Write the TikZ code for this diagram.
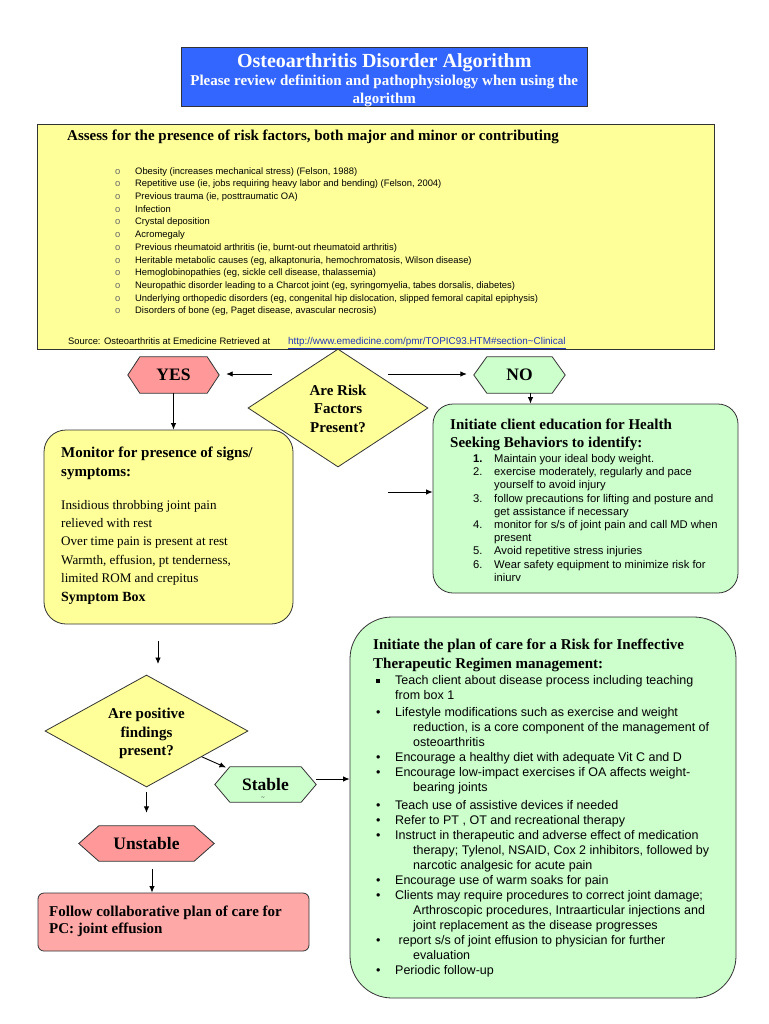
\documentclass[tikz,border=0pt]{standalone}
\usepackage{fontspec}
\setmainfont{Liberation Serif}
\newfontfamily\arialf{Liberation Sans}
\usetikzlibrary{shapes.geometric,arrows.meta,calc}
\definecolor{tblue}{HTML}{3366FF}
\definecolor{lyellow}{HTML}{FFFF99}
\definecolor{lgreen}{HTML}{CCFFCC}
\definecolor{lpink}{HTML}{FF9999}
\definecolor{rpink}{HTML}{FFA8A8}
\definecolor{edgec}{HTML}{333333}
\definecolor{urlc}{HTML}{2233BB}
\definecolor{bulc}{HTML}{666666}
\pgfdeclarelayer{bg}
\pgfsetlayers{bg,main}
\newcommand\hexdraw[3]{%
  \draw[draw=edgec,line width=0.8pt,fill=#2] (#1.west) -- ([xshift=#3]#1.north west) -- ([xshift=-#3]#1.north east) -- (#1.east) -- ([xshift=-#3]#1.south east) -- ([xshift=#3]#1.south west) -- cycle;}
\begin{document}
\begin{tikzpicture}[x=1pt,y=-1pt,
  box/.style={draw=edgec,line width=0.8pt,inner sep=0pt},
  hexbox/.style={inner sep=0pt,font=\fontsize{17.5}{20}\selectfont\bfseries},
  dia/.style={diamond,draw=edgec,fill=lyellow,line width=0.8pt,inner sep=0pt},
  diatext/.style={inner sep=0pt,align=center,font=\fontsize{15}{18.5}\selectfont\bfseries},
  txt/.style={inner sep=0pt,anchor=base west},
  arr/.style={-{Latex[length=6.5pt,width=5.5pt]},line width=0.9pt,black},
]
\useasboundingbox (0,0) rectangle (768,1024);

% title
\node[box,fill=tblue,minimum width=405.5pt,minimum height=59.5pt] (title) at (384.25,76.75) {};
\node[inner sep=0pt,anchor=base,text=white,font=\fontsize{20}{24}\selectfont\bfseries] (t1) at (384.25,68) {Osteoarthritis Disorder Algorithm};
\node[inner sep=0pt,anchor=base,text=white,font=\fontsize{15}{18}\selectfont\bfseries] (t2) at (384.25,85.5) {\begin{tabular}[t]{@{}c@{}}Please review definition and pathophysiology when using the\\ algorithm\end{tabular}};

% risk factor box
\node[box,fill=lyellow,minimum width=677pt,minimum height=225pt] (risk) at (375.5,236.5) {};
\node[txt,font=\fontsize{15}{17}\selectfont\bfseries] (rh) at (67,141) {Assess for the presence of risk factors, both major and minor or contributing};
\node[txt,font=\arialf\fontsize{9.4}{12.7}\selectfont] (rl) at (115,174.2) {\begin{tabular}[t]{@{}p{20pt}@{}l@{}}
\textcolor{bulc}{o} & Obesity (increases mechanical stress) (Felson, 1988)\\
\textcolor{bulc}{o} & Repetitive use (ie, jobs requiring heavy labor and bending) (Felson, 2004)\\
\textcolor{bulc}{o} & Previous trauma (ie, posttraumatic OA)\\
\textcolor{bulc}{o} & Infection\\
\textcolor{bulc}{o} & Crystal deposition\\
\textcolor{bulc}{o} & Acromegaly\\
\textcolor{bulc}{o} & Previous rheumatoid arthritis (ie, burnt-out rheumatoid arthritis)\\
\textcolor{bulc}{o} & Heritable metabolic causes (eg, alkaptonuria, hemochromatosis, Wilson disease)\\
\textcolor{bulc}{o} & Hemoglobinopathies (eg, sickle cell disease, thalassemia)\\
\textcolor{bulc}{o} & Neuropathic disorder leading to a Charcot joint (eg, syringomyelia, tabes dorsalis, diabetes)\\
\textcolor{bulc}{o} & Underlying orthopedic disorders (eg, congenital hip dislocation, slipped femoral capital epiphysis)\\
\textcolor{bulc}{o} & Disorders of bone (eg, Paget disease, avascular necrosis)
\end{tabular}};
\node[txt,font=\arialf\fontsize{9.4}{12.7}\selectfont] (src) at (68,344.5) {Source: Osteoarthritis at Emedicine Retrieved at};
\node[txt,font=\arialf\fontsize{9.9}{12.7}\selectfont,text=urlc] (url) at (288,344.5) {\underline{http://www.emedicine.com/pmr/TOPIC93.HTM\#section\textasciitilde Clinical}};

% decision 1
\node[dia,minimum width=180pt,minimum height=118pt] (d1) at (338,408) {};
\node[diatext] (d1t) at (338,408.5) {Are Risk\\Factors\\Present?};

% YES / NO
\node[hexbox,minimum width=91pt,minimum height=36pt] (yes) at (173.5,375) {YES};
\node[hexbox,minimum width=91pt,minimum height=36pt] (no) at (519.5,375) {NO};

% symptom box
\node[box,fill=lyellow,rounded corners=22pt,minimum width=249pt,minimum height=194pt] (symp) at (168.5,527) {};
\node[txt,font=\fontsize{15}{19}\selectfont\bfseries] (sh) at (61,457.5) {\begin{tabular}[t]{@{}l@{}}Monitor for presence of signs/\\ symptoms:\end{tabular}};
\node[txt,font=\fontsize{13.1}{18.4}\selectfont] (sb) at (61,509) {\begin{tabular}[t]{@{}l@{}}Insidious throbbing joint pain\\ relieved with rest\\ Over time pain is present at rest\\ Warmth, effusion, pt tenderness,\\ limited ROM and crepitus\\ \fontsize{14}{18.4}\selectfont\textbf{Symptom Box}\end{tabular}};

% health education box
\node[box,fill=lgreen,rounded corners=20pt,minimum width=305pt,minimum height=189pt] (edu) at (585.5,498.5) {};
\node[txt,font=\fontsize{15}{18}\selectfont\bfseries] (eh) at (450,429.5) {\begin{tabular}[t]{@{}l@{}}Initiate client education for Health\\ Seeking Behaviors to identify:\end{tabular}};
\node[txt,font=\arialf\fontsize{11.2}{13.2}\selectfont] (el) at (473,462.5) {\begin{tabular}[t]{@{}p{21pt}@{}l@{}}
\textbf{1.} & Maintain your ideal body weight.\\
2. & exercise moderately, regularly and pace\\
 & yourself to avoid injury\\
3. & follow precautions for lifting and posture and\\
 & get assistance if necessary\\
4. & monitor for s/s of joint pain and call MD when\\
 & present\\
5. & Avoid repetitive stress injuries\\
6. & Wear safety equipment to minimize risk for\\
 & iniurv
\end{tabular}};

% decision 2
\node[dia,minimum width=203pt,minimum height=112pt] (d2) at (146.5,731) {};
\node[diatext] (d2t) at (146.5,733.5) {Are positive\\findings\\present?};

% stable / unstable
\node[hexbox,minimum width=101pt,minimum height=35pt] (stable) at (265.5,784.5) {Stable};
\node[inner sep=0pt,font=\fontsize{6}{7}\selectfont] (tl) at (263,798.5) {\textasciitilde};
\node[hexbox,minimum width=135pt,minimum height=35pt] (unstable) at (146.5,843.5) {Unstable};

% red box
\node[box,fill=rpink,rounded corners=6pt,minimum width=271pt,minimum height=58pt] (red) at (173.5,922) {};
\node[txt,font=\fontsize{15}{17}\selectfont\bfseries] (rt) at (49,916) {\begin{tabular}[t]{@{}l@{}}Follow collaborative plan of care for\\ PC: joint effusion\end{tabular}};

% big plan box
\node[box,fill=lgreen,rounded corners=42pt,minimum width=386pt,minimum height=381pt] (big) at (543,807.5) {};
\node[txt,font=\fontsize{15}{19}\selectfont\bfseries] (bh) at (373,649.5) {\begin{tabular}[t]{@{}l@{}}Initiate the plan of care for a Risk for Ineffective\\ Therapeutic Regimen management:\end{tabular}};
\node[txt,font=\arialf\fontsize{12.5}{15}\selectfont] (bl) at (376,684.6) {\begin{tabular}[t]{@{}p{19pt}@{}l@{}}
\raisebox{2pt}{\rule{3.5pt}{3.5pt}} & Teach client about disease process including teaching\\
 & from box 1\\[2pt]
\textbullet & Lifestyle modifications such as exercise and weight\\
 & \hspace{18pt}reduction, is a core component of the management of\\
 & \hspace{18pt}osteoarthritis\\
\textbullet & Encourage a healthy diet with adequate Vit C and D\\
\textbullet & Encourage low-impact exercises if OA affects weight-\\
 & \hspace{18pt}bearing joints\\[2.5pt]
\textbullet & Teach use of assistive devices if needed\\
\textbullet & Refer to PT , OT and recreational therapy\\
\textbullet & Instruct in therapeutic and adverse effect of medication\\
 & \hspace{18pt}therapy; Tylenol, NSAID, Cox 2 inhibitors, followed by\\
 & \hspace{18pt}narcotic analgesic for acute pain\\
\textbullet & Encourage use of warm soaks for pain\\
\textbullet & Clients may require procedures to correct joint damage;\\
 & \hspace{18pt}Arthroscopic procedures, Intraarticular injections and\\
 & \hspace{18pt}joint replacement as the disease progresses\\
\textbullet & \ report s/s of joint effusion to physician for further\\
 & \hspace{18pt}evaluation\\
\textbullet & Periodic follow-up
\end{tabular}};

% hexagon outlines
\begin{pgfonlayer}{bg}
\fill[white] (0,0) rectangle (768,1024);
\hexdraw{yes}{lpink}{12pt}
\hexdraw{no}{lgreen}{13pt}
\hexdraw{stable}{lgreen}{15pt}
\hexdraw{unstable}{lpink}{20pt}
\end{pgfonlayer}

% free ends
\coordinate (a1) at (272,374);
\coordinate (a2) at (388,374);
\coordinate (a5) at (388,492);
\coordinate (a6s) at (158,641);
\coordinate (a6e) at (158,664);
\coordinate (a7) at (226,767.5);

% connectors
\draw[arr] (a1) -- ([xshift=7pt]yes.east |- a1);
\draw[arr] (a2) -- ([xshift=-7pt]no.west |- a2);
\draw[arr] (yes.south) -- (yes.south |- symp.north);
\draw[arr] ([xshift=11pt]no.south) -- ([xshift=11pt]no.south |- edu.north);
\draw[arr] (a5) -- (a5 -| edu.west);
\draw[arr] (a6s) -- (a6e);
\draw[arr] (d2.-25) -- (a7);
\draw[arr] ([yshift=-5pt]d2.south) -- ([yshift=13pt]unstable.north);
\draw[arr] ([xshift=5.5pt,yshift=-8pt]unstable.south) -- ([xshift=5.5pt]unstable.south |- red.north);
\draw[arr] ([yshift=5.5pt]stable.east) -- ([yshift=5.5pt]stable.east -| big.west);
\end{tikzpicture}
\end{document}
